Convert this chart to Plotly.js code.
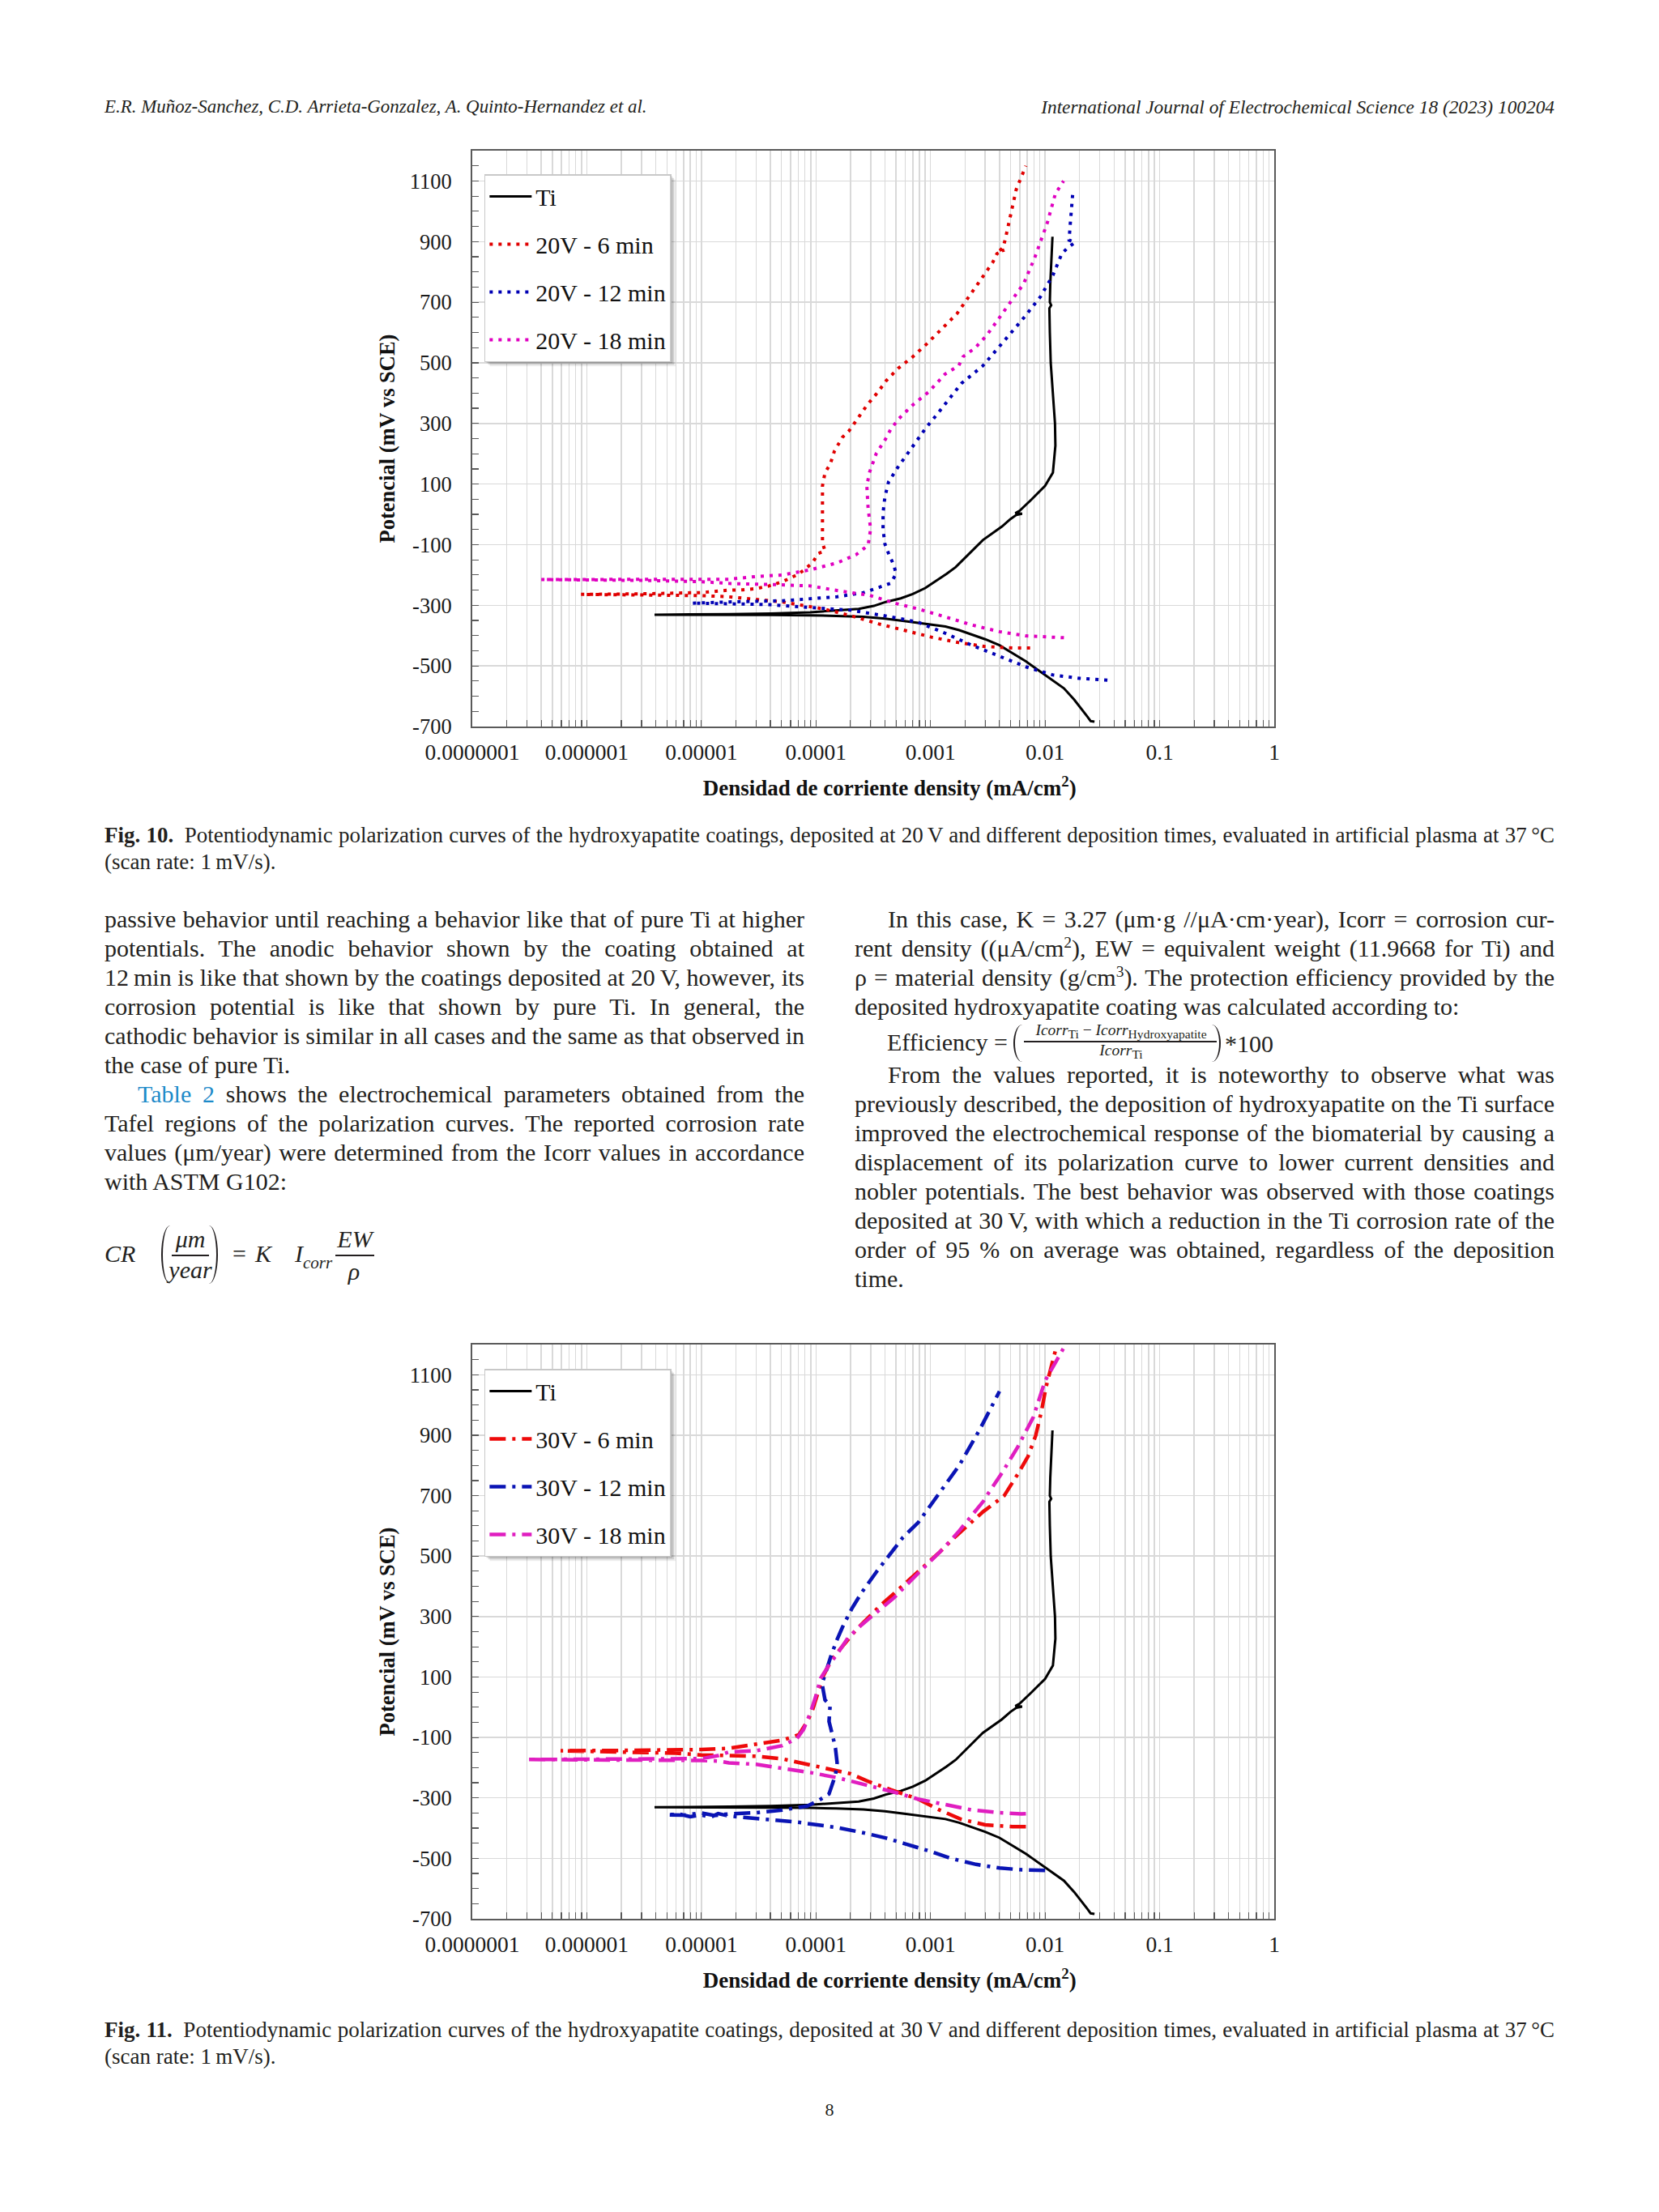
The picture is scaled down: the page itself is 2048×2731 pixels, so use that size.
<!DOCTYPE html>
<html><head><meta charset="utf-8">
<script src="https://cdn.plot.ly/plotly-3.0.1.min.js"></script>
<style>
html,body{margin:0;padding:0;background:#fff;}
body{width:2048px;height:2731px;position:relative;overflow:hidden;font-family:"Liberation Serif","Times New Roman",serif;color:#231f20;}
.ln{position:absolute;white-space:nowrap;}
.link{color:#1d8ac9;}
.fig{position:absolute;}
.pl{position:absolute;border-left:2px solid #231f20;border-radius:100% 0 0 100% / 50% 0 0 50%;}
.pr{position:absolute;border-right:2px solid #231f20;border-radius:0 100% 100% 0 / 0 50% 50% 0;}
sub{font-size:0.8em;vertical-align:-0.25em;line-height:0;}
sup{font-size:0.65em;vertical-align:0.55em;line-height:0;}
</style></head><body>
<div id="fig1" class="fig" style="left:400px;top:150px;width:1220px;height:880px"></div>
<div id="fig2" class="fig" style="left:400px;top:1620px;width:1220px;height:880px"></div>
<script>
// ---------- DATA (current density mA/cm2, potential mV vs SCE) ----------
const tiCurrent = [2.7e-2,2.5e-2,2.35e-2,2.1e-2,1.8e-2,1.46e-2,1.17e-2,8.9e-3,6.8e-3,5.2e-3,4.0e-3,3.0e-3,2.3e-3,1.78e-3,1.35e-3,8.9e-4,5.9e-4,4.0e-4,2.6e-4,1.5e-4,8.9e-5,4e-5,1.74e-5,8e-6,3.9e-6,8e-6,1.74e-5,4e-5,8.9e-5,1.6e-4,2.36e-4,3.2e-4,4.07e-4,5.5e-4,7e-4,9e-4,1.14e-3,1.38e-3,1.66e-3,2.18e-3,2.86e-3,4.2e-3,5.0e-3,5.6e-3,6.3e-3,5.5e-3,6.0e-3,7.6e-3,1.0e-2,1.17e-2,1.23e-2,1.22e-2,1.175e-2,1.12e-2,1.1e-2,1.09e-2,1.13e-2,1.1e-2,1.11e-2,1.135e-2,1.16e-2];
const tiPotential = [-684,-682,-668,-645,-612,-574,-548,-516,-485,-458,-432,-412,-396,-382,-370,-360,-352,-344,-338,-335,-333,-332,-331,-331,-331,-330,-329,-327,-323,-316,-312,-302,-289,-277,-263,-243,-218,-196,-174,-129,-85,-40,-15,-2,2,4,12,49,94,138,227,300,400,500,600,680,690,700,760,850,916];

const v20m6Current = [7.4e-3,5.2e-3,3.0e-3,1.76e-3,1.02e-3,5.9e-4,3.5e-4,2.0e-4,1.17e-4,5.1e-5,1.74e-5,1.0e-5,3.2e-6,8.9e-7,3.2e-6,1.0e-5,1.74e-5,2.3e-5,3.0e-5,3.9e-5,5.1e-5,6.8e-5,7.9e-5,9.3e-5,1.05e-4,1.2e-4,1.14e-4,1.14e-4,1.14e-4,1.2e-4,1.33e-4,1.45e-4,1.7e-4,1.95e-4,2.3e-4,2.8e-4,3.5e-4,4.1e-4,5.2e-4,7.0e-4,9.3e-4,1.7e-3,2.75e-3,3.5e-3,3.8e-3,4.4e-3,3.9e-3,4.3e-3,4.5e-3,5.0e-3,5.6e-3,6.8e-3];
const v20m6Potential = [-441,-441,-436,-423,-405,-383,-361,-334,-312,-289,-272,-268,-266,-264,-262,-258,-250,-249,-245,-236,-222,-200,-183,-160,-129,-120,-95,-4,94,138,165,209,254,276,316,361,405,441,481,520,563,662,775,832,860,872,866,880,909,987,1072,1150];

const v20m12Current = [3.5e-2,2.0e-2,1.17e-2,6.8e-3,4.0e-3,2.3e-3,1.34e-3,7.8e-4,4.5e-4,2.0e-4,8.9e-5,4.0e-5,1.74e-5,8.3e-6,1.74e-5,5.1e-5,1.53e-4,2.6e-4,3.6e-4,4.5e-4,5.0e-4,4.8e-4,4.3e-4,4.0e-4,3.85e-4,3.85e-4,4.0e-4,4.3e-4,5.2e-4,6.3e-4,7.4e-4,9.1e-4,1.14e-3,1.49e-3,1.86e-3,2.43e-3,2.86e-3,4.5e-3,6.5e-3,9.1e-3,1.17e-2,1.4e-2,1.58e-2,1.82e-2,1.62e-2,1.66e-2,1.74e-2];
const v20m12Potential = [-547,-541,-530,-503,-468,-432,-392,-356,-338,-316,-307,-298,-295,-293,-289,-285,-272,-258,-240,-227,-196,-169,-129,-98,-49,4,58,107,156,201,241,285,330,388,432,468,490,577,648,718,789,860,880,897,905,960,1055];

const v20m18Current = [1.46e-2,6.8e-3,4.0e-3,2.3e-3,1.34e-3,7.8e-4,5.0e-4,2.93e-4,1.7e-4,8.9e-5,4.5e-5,1.74e-5,1.0e-5,3.2e-6,4.0e-7,3.2e-6,1.0e-5,1.74e-5,3.0e-5,5.1e-5,8.9e-5,1.53e-4,2.24e-4,2.85e-4,3.0e-4,2.85e-4,2.78e-4,2.93e-4,3.36e-4,4.0e-4,4.5e-4,5.3e-4,7.0e-4,9.7e-4,1.34e-3,1.76e-3,1.92e-3,2.45e-3,3.1e-3,4.5e-3,6.5e-3,8.1e-3,1.04e-2,1.23e-2,1.45e-2];
const v20m18Potential = [-407,-401,-387,-365,-338,-312,-294,-267,-254,-236,-232,-228,-222,-218,-215,-214,-214,-214,-205,-200,-183,-160,-133,-102,-49,22,94,138,201,245,281,316,361,405,463,490,520,549,591,676,761,846,959,1058,1100];

const v30m6Current = [6.8e-3,5.2e-3,3.0e-3,1.86e-3,1.2e-3,7.8e-4,4.5e-4,2.93e-4,2.0e-4,1.23e-4,7.6e-5,5.1e-5,3.0e-5,1.74e-5,1.0e-5,6.0e-6,2.0e-6,5.9e-7,2.0e-6,6.0e-6,1.0e-5,1.74e-5,3.0e-5,5.1e-5,7.1e-5,8.4e-5,9.3e-5,1.05e-4,1.16e-4,1.37e-4,1.7e-4,2.24e-4,2.93e-4,3.63e-4,4.8e-4,6.3e-4,9.1e-4,1.2e-3,1.58e-3,2.19e-3,2.88e-3,3.55e-3,4.4e-3,5.75e-3,7.1e-3,8.3e-3,9.3e-3,1.02e-2,1.12e-2,1.23e-2];
const v30m6Potential = [-395,-395,-389,-371,-340,-304,-273,-247,-220,-202,-184,-171,-162,-160,-158,-152,-147,-144,-143,-141,-140,-136,-122,-109,-91,-47,-11,51,104,158,202,256,300,336,376,416,473,513,558,607,647,673,700,770,830,900,980,1060,1120,1180];

const v30m12Current = [1.0e-2,6.3e-3,4.0e-3,2.5e-3,1.5e-3,1.02e-3,5.9e-4,4.1e-4,2.63e-4,1.53e-4,6.8e-5,3.0e-5,1.74e-5,1.4e-5,1.2e-5,1.0e-5,8.0e-6,6.5e-6,5.0e-6,7.0e-6,1.0e-5,1.3e-5,1.74e-5,3.0e-5,5.1e-5,8.4e-5,1.05e-4,1.3e-4,1.41e-4,1.48e-4,1.53e-4,1.48e-4,1.41e-4,1.3e-4,1.33e-4,1.2e-4,1.13e-4,1.23e-4,1.37e-4,1.53e-4,1.7e-4,2.06e-4,2.51e-4,3.36e-4,4.1e-4,5.75e-4,7.8e-4,1.02e-3,1.15e-3,1.78e-3,2.7e-3,4.0e-3];
const v30m12Potential = [-540,-538,-532,-520,-500,-478,-451,-433,-416,-398,-380,-367,-360,-352,-364,-356,-362,-354,-356,-357,-350,-358,-353,-349,-340,-327,-309,-287,-251,-224,-184,-136,-100,-47,7,24,78,122,176,224,264,327,380,447,491,562,611,673,700,800,920,1045];

const v30m18Current = [6.8e-3,6.2e-3,4.0e-3,2.3e-3,1.34e-3,7.8e-4,4.5e-4,2.63e-4,1.53e-4,8.9e-5,5.1e-5,3.0e-5,1.74e-5,1.4e-5,1.0e-5,3.0e-6,1.0e-6,3.0e-7,1.0e-6,3.0e-6,1.0e-5,1.4e-5,1.74e-5,3.0e-5,5.1e-5,6.8e-5,7.8e-5,8.9e-5,9.9e-5,1.1e-4,1.3e-4,1.53e-4,1.9e-4,2.51e-4,3.47e-4,4.8e-4,6.6e-4,8.7e-4,1.27e-3,1.75e-3,2.43e-3,2.9e-3,3.16e-3,4.2e-3,5.75e-3,7.9e-3,1.0e-2,1.32e-2,1.51e-2];
const v30m18Potential = [-352,-353,-349,-340,-322,-304,-278,-256,-233,-216,-202,-189,-184,-178,-176,-174,-173,-173,-172,-172,-170,-160,-148,-144,-127,-104,-73,-20,33,96,140,176,229,273,318,362,416,460,522,580,647,682,705,775,860,960,1080,1160,1200];

const seriesNames20 = ['Ti','20V - 6 min','20V - 12 min','20V - 18 min'];
const seriesNames30 = ['Ti','30V - 6 min','30V - 12 min','30V - 18 min'];

const xTickVals = [1e-7,1e-6,1e-5,1e-4,1e-3,1e-2,1e-1,1];
const xTickText = ['0.0000001','0.000001','0.00001','0.0001','0.001','0.01','0.1','1'];
const yTickVals = [-700,-500,-300,-100,100,300,500,700,900,1100];
const yTickText = ['-700','-500','-300','-100','100','300','500','700','900','1100'];

// ---------- CHARTS ----------
const xMinor = [];
for (let d = 0; d < 7; d++) { for (let m = 2; m <= 9; m++) xMinor.push(+(m * xTickVals[d]).toPrecision(3)); }

const AX = '#5a5a5a', GRID = '#d9d9d9';
function tr(name, x, y, color, dash, width, g) {
  return {type:'scatter', mode:'lines', name:name, x:x, y:y, legendgroup:g,
          line:{color:color, dash:dash, width:width}, hoverinfo:'skip'};
}
function makeLayout(t, plotH, legTop) {
  return {
    width:1220, height:880,
    margin:{l:183, r:47, t:t, b:880 - t - plotH},
    paper_bgcolor:'#ffffff', plot_bgcolor:'#ffffff',
    font:{family:'Liberation Serif, Times New Roman, serif', size:26, color:'#1a1a1a'},
    showlegend:true,
    legend:{x:0.015, y:1 - legTop / plotH, xanchor:'left', yanchor:'top',
            bgcolor:'#ffffff', bordercolor:'#c8c8c8', borderwidth:1.5,
            font:{size:30, color:'#111111'}, traceorder:'grouped', tracegroupgap:17, itemwidth:52},
    xaxis:{type:'log', range:[-7,0], tickmode:'array', tickvals:xTickVals, ticktext:xTickText,
           tickfont:{size:27.5},
           showgrid:true, gridcolor:GRID, gridwidth:1.5, zeroline:false,
           showline:true, mirror:true, linecolor:AX, linewidth:2,
           ticks:'inside', ticklen:8, tickwidth:1.2, tickcolor:AX, ticklabelstandoff:6,
           minor:{tickmode:'array', tickvals:xMinor, ticks:'inside', ticklen:8, tickwidth:1.2, tickcolor:AX,
                  showgrid:true, gridcolor:GRID, gridwidth:1.5},
           title:{text:'&nbsp;&nbsp;&nbsp;&nbsp;&nbsp;&nbsp;Densidad de corriente density (mA/cm<sup>2</sup>)', font:{size:27, weight:'bold', color:'#111111'}, standoff:20}},
    yaxis:{range:[-700,1200], tickmode:'array', tickvals:yTickVals, ticktext:yTickText,
           tickfont:{size:26.5},
           showgrid:true, gridcolor:GRID, gridwidth:1.5, zeroline:false,
           showline:true, mirror:true, linecolor:AX, linewidth:2,
           ticks:'inside', ticklen:8, tickwidth:1.2, tickcolor:AX, ticklabelstandoff:18,
           minor:{tick0:-700, dtick:50, ticks:'inside', ticklen:8, tickwidth:1.2, tickcolor:AX, showgrid:false},
           title:{text:'Potencial (mV vs SCE)', font:{size:26.5, weight:'bold', color:'#111111'}, standoff:10}}
  };
}
function addShadow(gd) {
  const bg = gd.querySelector('.legend .bg');
  if (!bg) return;
  const r = bg.getBoundingClientRect(), dr = gd.getBoundingClientRect(), s = gd._fullLayout._size;
  const X = p => (p - dr.left - s.l) / s.w, Y = p => 1 - (p - dr.top - s.t) / s.h;
  const shapes = [];
  [[6,'rgba(0,0,0,0.07)'],[4,'rgba(0,0,0,0.12)'],[2,'rgba(0,0,0,0.15)']].forEach(function(o){
    shapes.push({type:'rect', xref:'paper', yref:'paper', layer:'above',
      x0:X(r.left + o[0]), x1:X(r.right + o[0]), y0:Y(r.bottom + o[0]), y1:Y(r.top + o[0]),
      fillcolor:o[1], line:{width:0}});
  });
  Plotly.relayout(gd, {shapes:shapes});
}
const DOT = '4px,7px', DASHDOT = '20px,8px,4px,8px';
const traces1 = [
  tr(seriesNames20[0], tiCurrent, tiPotential, '#000000', 'solid', 3, 'a'),
  tr(seriesNames20[1], v20m6Current, v20m6Potential, '#e00000', DOT, 4, 'b'),
  tr(seriesNames20[2], v20m12Current, v20m12Potential, '#0000b4', DOT, 4, 'c'),
  tr(seriesNames20[3], v20m18Current, v20m18Potential, '#e000c0', DOT, 4, 'd')
];
const traces2 = [
  tr(seriesNames30[0], tiCurrent, tiPotential, '#000000', 'solid', 3, 'a'),
  tr(seriesNames30[1], v30m6Current, v30m6Potential, '#ee0a0a', DASHDOT, 4.5, 'b'),
  tr(seriesNames30[2], v30m12Current, v30m12Potential, '#0a14b4', DASHDOT, 4.5, 'c'),
  tr(seriesNames30[3], v30m18Current, v30m18Potential, '#e01ec0', DASHDOT, 4.5, 'd')
];
Plotly.newPlot('fig1', traces1, makeLayout(36, 711, 29), {staticPlot:true}).then(addShadow);
Plotly.newPlot('fig2', traces2, makeLayout(40, 709, 30), {staticPlot:true}).then(addShadow);

// ---------- PAGE TEXT ----------
function line(html, x, cy, o) {
  o = o || {};
  const d = document.createElement('div');
  d.className = 'ln'; d.innerHTML = html;
  const size = o.size || 30, lh = o.lh || 28;
  d.style.fontSize = size + 'px'; d.style.lineHeight = lh + 'px';
  d.style.top = (cy - lh / 2) + 'px'; d.style.left = x + 'px';
  if (o.italic) d.style.fontStyle = 'italic';
  if (o.color) d.style.color = o.color;
  document.body.appendChild(d);
  let w = d.getBoundingClientRect().width;
  if (o.fit) { d.style.fontSize = (size * o.fit / w) + 'px'; w = d.getBoundingClientRect().width; }
  if (o.justify) {
    const n = (d.textContent.match(/ /g) || []).length;
    if (n) d.style.wordSpacing = ((o.justify - w) / n) + 'px';
  }
  w = d.getBoundingClientRect().width;
  if (o.right !== undefined) d.style.left = (o.right - w) + 'px';
  if (o.center !== undefined) d.style.left = (o.center - w / 2) + 'px';
  return d;
}
const T = '\u2009';
// header
line('E.R. Muñoz-Sanchez, C.D. Arrieta-Gonzalez, A. Quinto-Hernandez et al.', 129, 132, {size:22, italic:true, fit:670});
line('International Journal of Electrochemical Science 18 (2023) 100204', 0, 132, {size:22, italic:true, fit:634, right:1919});

// captions
function caption(num, volt, cy) {
  line('<b>Fig. ' + num + '.</b>&ensp;Potentiodynamic polarization curves of the hydroxyapatite coatings, deposited at ' + volt + T + 'V and different deposition times, evaluated in artificial plasma at 37' + T + '°C', 129, cy, {size:27, lh:28, justify:1790});
  line('(scan rate: 1' + T + 'mV/s).', 129, cy + 33, {size:27, lh:28});
}
caption(10, 20, 1031);
caption(11, 30, 2506);

// left column
const L = 129, R = 1055, CW = 864, IND = 41;
const leftLines = [
  ['passive behavior until reaching a behavior like that of pure Ti at higher', 0, true],
  ['potentials. The anodic behavior shown by the coating obtained at', 0, true],
  ['12' + T + 'min is like that shown by the coatings deposited at 20' + T + 'V, however, its', 0, true],
  ['corrosion potential is like that shown by pure Ti. In general, the', 0, true],
  ['cathodic behavior is similar in all cases and the same as that observed in', 0, true],
  ['the case of pure Ti.', 0, false],
  ['<span class="link">Table 2</span> shows the electrochemical parameters obtained from the', IND, true],
  ['Tafel regions of the polarization curves. The reported corrosion rate', 0, true],
  ['values (μm/year) were determined from the Icorr values in accordance', 0, true],
  ['with ASTM G102:', 0, false]
];
leftLines.forEach(function(a, i) {
  line(a[0], L + a[1], 1135 + 36 * i, a[2] ? {justify:CW - a[1]} : {});
});
const rightTop = [
  ['In this case, K = 3.27 (μm·g //μA·cm·year), Icorr = corrosion cur-', IND, true],
  ['rent density ((μA/cm<sup>2</sup>), EW = equivalent weight (11.9668 for Ti) and', 0, true],
  ['ρ = material density (g/cm<sup>3</sup>). The protection efficiency provided by the', 0, true],
  ['deposited hydroxyapatite coating was calculated according to:', 0, false]
];
rightTop.forEach(function(a, i) {
  line(a[0], R + a[1], 1135 + 36 * i, a[2] ? {justify:CW - a[1]} : {});
});
const rightBottom = [
  ['From the values reported, it is noteworthy to observe what was', IND, true],
  ['previously described, the deposition of hydroxyapatite on the Ti surface', 0, true],
  ['improved the electrochemical response of the biomaterial by causing a', 0, true],
  ['displacement of its polarization curve to lower current densities and', 0, true],
  ['nobler potentials. The best behavior was observed with those coatings', 0, true],
  ['deposited at 30' + T + 'V, with which a reduction in the Ti corrosion rate of the', 0, true],
  ['order of 95 % on average was obtained, regardless of the deposition', 0, true],
  ['time.', 0, false]
];
rightBottom.forEach(function(a, i) {
  line(a[0], R + a[1], 1327 + 36 * i, a[2] ? {justify:CW - a[1]} : {});
});

// equation helpers (rules and parentheses drawn as boxes)
function rule(x0, x1, y) {
  const d = document.createElement('div');
  d.style.cssText = 'position:absolute;left:' + x0 + 'px;top:' + y + 'px;width:' + (x1 - x0) + 'px;height:1.6px;background:#231f20;';
  document.body.appendChild(d);
}
function paren(left, x, y0, y1) {
  const d = document.createElement('div');
  d.className = left ? 'pl' : 'pr';
  d.style.left = x + 'px'; d.style.top = y0 + 'px';
  d.style.width = '9px'; d.style.height = (y1 - y0) + 'px';
  document.body.appendChild(d);
}
// equation: corrosion rate
line('CR', 129, 1548, {italic:true});
paren(true, 199, 1513, 1585);
line('μm', 0, 1530, {italic:true, center:235, lh:24});
rule(212, 258, 1549);
line('year', 0, 1568, {italic:true, center:235, lh:24});
paren(false, 258, 1513, 1585);
line('=', 287, 1548, {});
line('K', 315, 1548, {italic:true});
line('I', 364, 1548, {italic:true});
line('corr', 374, 1559, {italic:true, size:21, lh:20});
line('EW', 0, 1530, {italic:true, center:438, lh:24});
rule(414, 462, 1549);
line('ρ', 0, 1570, {italic:true, center:437, lh:24});

// equation: efficiency
line('Efficiency =', 1095, 1287, {});
paren(true, 1251, 1265, 1311);
line('<i>Icorr</i><sub>Ti</sub> − <i>Icorr</i><sub>Hydroxyapatite</sub>', 0, 1271, {size:19.5, lh:17, center:1384});
rule(1264, 1502, 1285);
line('<i>Icorr</i><sub>Ti</sub>', 0, 1296, {size:19.5, lh:17, center:1384});
paren(false, 1496, 1265, 1311);
line('*100', 1512, 1289, {});

// page number
line('8', 0, 2605, {size:22, center:1024});
</script>
</body></html>
